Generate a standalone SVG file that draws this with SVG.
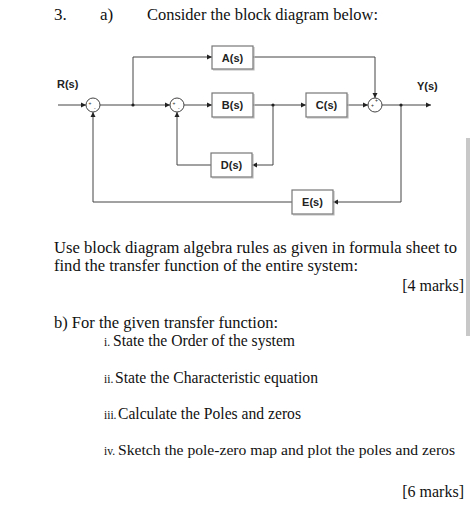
<svg xmlns="http://www.w3.org/2000/svg" width="474" height="508" viewBox="0 0 474 508">
<defs>
<marker id="ah" markerWidth="6" markerHeight="6" refX="5" refY="3" orient="auto" markerUnits="userSpaceOnUse">
<path d="M0,0.5 L5,3 L0,5.5 Z" fill="#222"/>
</marker>
<style>
.t{font-family:"Liberation Serif","Times New Roman",serif;font-size:16px;fill:#111}
.r{font-family:"Liberation Serif","Times New Roman",serif;font-size:11.5px;fill:#111}
.b{font-family:"Liberation Sans",Arial,sans-serif;font-size:11px;font-weight:bold;fill:#222}
.box{fill:#fff;stroke:#777;stroke-width:1.2}
.sh{fill:none;stroke:#bbb;stroke-width:1.2}
.w{fill:none;stroke:#444;stroke-width:1}
.sum{fill:#fff;stroke:#444;stroke-width:1}
.s{font-family:"Liberation Sans",Arial,sans-serif;font-size:5px;fill:#222}
</style>
</defs>
<rect width="474" height="508" fill="#fff"/>
<text class="t" x="54" y="20" style="font-size:17px">3.</text>
<text class="t" x="100" y="20" style="font-size:17px">a)</text>
<text class="t" x="147" y="20" style="font-size:17px" textLength="231" lengthAdjust="spacingAndGlyphs">Consider the block diagram below:</text>

<g id="connectors">
<path class="w" d="M58,105 H86" marker-end="url(#ah)"/>
<path class="w" d="M100,105 H170" marker-end="url(#ah)"/>
<path class="w" d="M133,105 V57 H212" marker-end="url(#ah)"/>
<path class="w" d="M184,105 H212" marker-end="url(#ah)"/>
<path class="w" d="M253,105 H306" marker-end="url(#ah)"/>
<path class="w" d="M347,105 H368" marker-end="url(#ah)"/>
<path class="w" d="M253,57 H375 V98" marker-end="url(#ah)"/>
<path class="w" d="M382,105 H431" marker-end="url(#ah)"/>
<path class="w" d="M273,105 V165 H252" marker-end="url(#ah)"/>
<path class="w" d="M211,165 H177 V112" marker-end="url(#ah)"/>
<path class="w" d="M401,105 V202 H333" marker-end="url(#ah)"/>
<path class="w" d="M292,202 H93 V112" marker-end="url(#ah)"/>
<circle cx="133" cy="105" r="1.6" fill="#222"/>
<circle cx="273" cy="105" r="1.6" fill="#222"/>
<circle cx="401" cy="105" r="1.6" fill="#222"/>
</g>

<g id="sum1"><circle class="sum" cx="93" cy="105" r="7"/><text class="s" x="88.5" y="105">+</text><text class="s" x="94" y="110">-</text></g>
<g id="sum2"><circle class="sum" cx="177" cy="105" r="7"/><text class="s" x="172.5" y="105">+</text><text class="s" x="178" y="110">-</text></g>
<g id="sum3"><circle class="sum" cx="375" cy="105" r="7"/><text class="s" x="371" y="107">+</text><text class="s" x="375" y="102">+</text></g>

<g id="A"><path class="sh" d="M254,47 V70 H213"/><rect class="box" x="212" y="46" width="41" height="23"/><text class="b" x="232.5" y="61.5" text-anchor="middle">A(s)</text></g>
<g id="B"><path class="sh" d="M254,94 V118 H213"/><rect class="box" x="212" y="93" width="41" height="24"/><text class="b" x="232.5" y="109" text-anchor="middle">B(s)</text></g>
<g id="C"><path class="sh" d="M348,94 V118 H307"/><rect class="box" x="306" y="93" width="41" height="24"/><text class="b" x="326.5" y="109" text-anchor="middle">C(s)</text></g>
<g id="D"><path class="sh" d="M253,154 V178 H212"/><rect class="box" x="211" y="153" width="41" height="24"/><text class="b" x="231.5" y="169" text-anchor="middle">D(s)</text></g>
<g id="E"><path class="sh" d="M334,191 V215 H293"/><rect class="box" x="292" y="190" width="41" height="24"/><text class="b" x="312.5" y="206" text-anchor="middle">E(s)</text></g>

<text class="b" x="57" y="88">R(s)</text>
<text class="b" x="417" y="90">Y(s)</text>

<rect x="466" y="138" width="4" height="198" fill="#c8c8c8"/>

<text class="t" x="54" y="253" textLength="403" lengthAdjust="spacingAndGlyphs">Use block diagram algebra rules as given in formula sheet to</text>
<text class="t" x="54" y="271" textLength="304" lengthAdjust="spacingAndGlyphs">find the transfer function of the entire system:</text>
<text class="t" x="464" y="291" text-anchor="end">[4 marks]</text>

<text class="t" x="54" y="328" textLength="224" lengthAdjust="spacingAndGlyphs">b) For the given transfer function:</text>
<text class="r" x="104" y="346">i.</text>
<text class="t" x="113" y="346" textLength="182" lengthAdjust="spacingAndGlyphs">State the Order of the system</text>
<text class="r" x="104" y="383">ii.</text>
<text class="t" x="115" y="383" textLength="203" lengthAdjust="spacingAndGlyphs">State the Characteristic equation</text>
<text class="r" x="104" y="419">iii.</text>
<text class="t" x="118" y="419" textLength="183" lengthAdjust="spacingAndGlyphs">Calculate the Poles and zeros</text>
<text class="r" x="104" y="455">iv.</text>
<text class="t" x="118" y="455" style="font-size:15.5px" textLength="337" lengthAdjust="spacingAndGlyphs">Sketch the pole-zero map and plot the poles and zeros</text>
<text class="t" x="464" y="497" text-anchor="end">[6 marks]</text>
</svg>
